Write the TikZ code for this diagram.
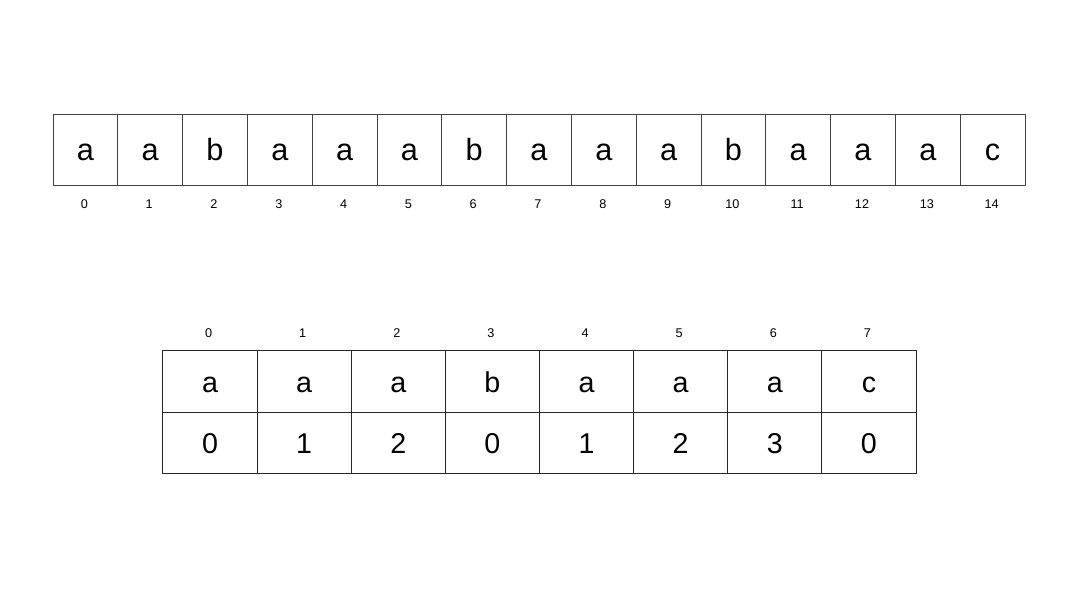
\documentclass[tikz,border=0pt]{standalone}
\usepackage{fontspec}
\setmainfont{Liberation Sans}
\begin{document}
\begin{tikzpicture}[x=0.75pt,y=-0.75pt,
  topcell/.style={draw=black!75,line width=0.75pt,minimum width=48.6pt,minimum height=53.25pt,inner sep=0pt,text height=15.75pt,text depth=0pt,font=\fontsize{23}{28}\selectfont},
  botcell/.style={draw=black!85,line width=0.75pt,minimum width=70.6pt,minimum height=46.1pt,inner sep=0pt,text height=15.9pt,text depth=0pt,font=\fontsize{21.5}{26}\selectfont},
  idx/.style={inner sep=0pt,font=\fontsize{9.5}{11}\selectfont}]
\useasboundingbox (0,0) rectangle (1080,608);
\foreach \c [count=\i from 0] in {a,a,b,a,a,a,b,a,a,a,b,a,a,a,c}{
  \node[topcell] (t\i) at ({53+64.8*\i+32.4},149.5) {\c};
  \node[idx] (ti\i) at ({53+64.8*\i+32.4-1},204) {\i};
}
\foreach \c/\v [count=\i from 0] in {a/0,a/1,a/2,b/0,a/1,a/2,a/3,c/0}{
  \node[botcell] (s\i) at ({163+94.125*\i+47.06},381.5) {\c};
  \node[botcell] (v\i) at ({163+94.125*\i+47.06},443) {\v};
  \node[idx] (bi\i) at ({163+94.125*\i+47.06-1.5},333) {\i};
}
\end{tikzpicture}
\end{document}
